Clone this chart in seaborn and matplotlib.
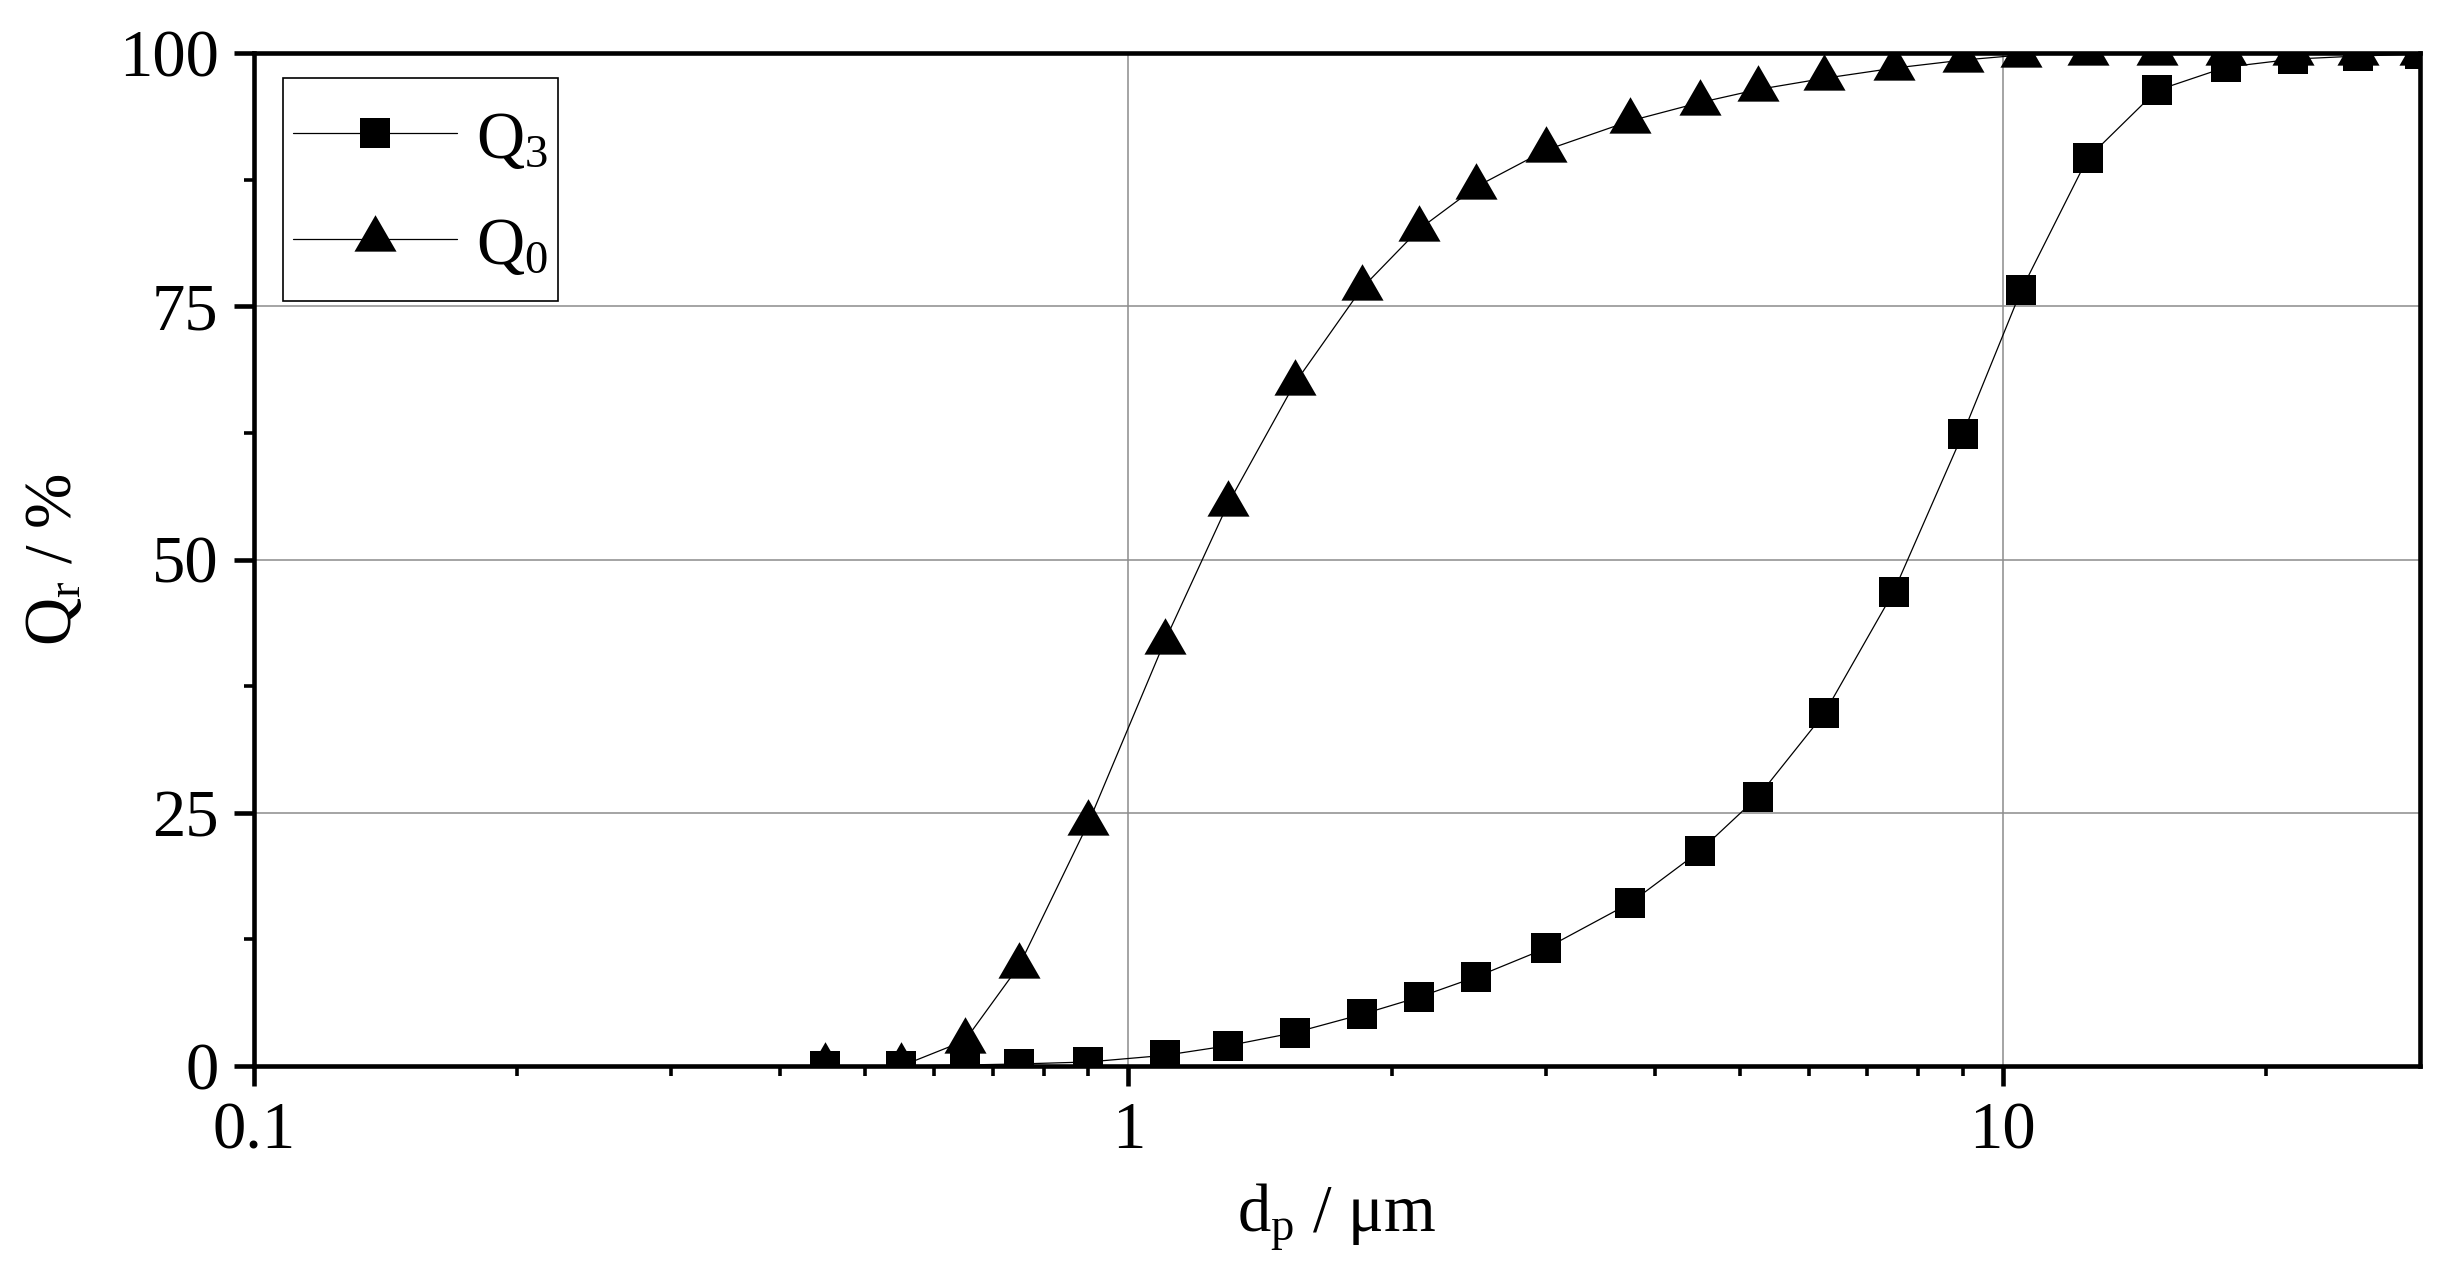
import numpy as np
import pandas as pd
import matplotlib
matplotlib.use("Agg")
import matplotlib.pyplot as plt
from matplotlib.ticker import FixedLocator, NullFormatter, FuncFormatter
import seaborn as sns

# ---- data ----
d_p = [0.45, 0.55, 0.65, 0.75, 0.9, 1.1, 1.3, 1.55, 1.85, 2.15, 2.5, 3.0,
       3.75, 4.5, 5.25, 6.25, 7.5, 9.0, 10.5, 12.5, 15.0, 18.0, 21.5, 25.5, 30.0]
Q3 = [0.0, 0.0, 0.1, 0.2, 0.4, 1.05, 2.0, 3.3, 5.1, 6.8, 8.8, 11.6,
      16.1, 21.2, 26.6, 34.8, 46.8, 62.4, 76.6, 89.6, 96.3, 98.6, 99.4, 99.7, 99.9]
Q0 = [0.0, 0.0, 2.5, 9.9, 24.0, 41.9, 55.5, 67.4, 76.8, 82.6, 86.8, 90.4,
      93.3, 95.1, 96.4, 97.5, 98.5, 99.3, 99.8, 100.0, 100.0, 100.0, 100.0, 100.0, 100.0]
series_labels = [r"Q$_\mathregular{3}$", r"Q$_\mathregular{0}$"]
y_ticks = [0, 25, 50, 75, 100]
x_ticks = [0.1, 1, 10]

sns.set_theme(style="ticks")
plt.rcParams["font.family"] = ["Liberation Serif", "DejaVu Serif"]
plt.rcParams["mathtext.fontset"] = "custom"
plt.rcParams["mathtext.rm"] = "Liberation Serif"
plt.rcParams["mathtext.it"] = "Liberation Serif:italic"
plt.rcParams["axes.unicode_minus"] = False
for k in ("text.color", "axes.labelcolor", "xtick.color", "ytick.color",
          "xtick.labelcolor", "ytick.labelcolor", "axes.edgecolor"):
    plt.rcParams[k] = "black"

FS = 48
DPI = 100
fig = plt.figure(figsize=(2447 / DPI, 1276 / DPI), dpi=DPI)
ax = fig.add_axes([254 / 2447, 1 - 1066 / 1276, (2420 - 254) / 2447, (1066 - 53) / 1276])

df = pd.DataFrame({"d": d_p + d_p,
                   "Q": Q3 + Q0,
                   "series": [series_labels[0]] * len(d_p) + [series_labels[1]] * len(d_p)})

tri = [(0.0, 1.0), (-0.866, -0.5), (0.866, -0.5)]

sns.lineplot(data=df[df.series == series_labels[0]], x="d", y="Q", ax=ax,
             color="black", linewidth=0.9, marker="s", markersize=21,
             markeredgewidth=0, estimator=None, sort=False,
             label=series_labels[0], zorder=3)
sns.lineplot(data=df[df.series == series_labels[1]], x="d", y="Q", ax=ax,
             color="black", linewidth=0.9, marker=tri, markersize=35,
             markeredgewidth=0, estimator=None, sort=False,
             label=series_labels[1], zorder=4)

ax.set_xscale("log")
ax.set_xlim(0.1, 30)
ax.set_ylim(0, 100)

ax.xaxis.set_major_locator(FixedLocator(x_ticks))
ax.xaxis.set_major_formatter(FuncFormatter(lambda v, p: f"{v:g}"))
minors = [m * 10.0 ** e for e in (-1, 0, 1) for m in range(2, 10) if m * 10.0 ** e < 30]
ax.xaxis.set_minor_locator(FixedLocator(minors))
ax.xaxis.set_minor_formatter(NullFormatter())
ax.yaxis.set_major_locator(FixedLocator(y_ticks))
ax.yaxis.set_minor_locator(FixedLocator([12.5, 37.5, 62.5, 87.5]))

ax.grid(True, which="major", color="#8c8c8c", linewidth=1.1)
ax.set_axisbelow(True)

for s in ax.spines.values():
    s.set_linewidth(3.3)
    s.set_color("black")
    s.set_zorder(5)

ax.tick_params(axis="both", which="major", direction="out", length=14.5, width=3.3,
               labelsize=FS, colors="black", labelcolor="black", pad=11)
ax.tick_params(axis="both", which="minor", direction="out", length=7.5, width=2.6,
               colors="black")
ax.tick_params(top=False, right=False, which="both")

ax.set_xlabel(r"d$_\mathregular{p}$ / μm", fontsize=FS, labelpad=14, color="black")
ax.set_ylabel(r"Q$_\mathregular{r}$ / %", fontsize=FS, labelpad=24, color="black")

leg = ax.legend(loc="upper left", bbox_to_anchor=(29 / 2166, 1 - 25 / 1013),
                borderaxespad=0, fontsize=FS, frameon=True, fancybox=False,
                framealpha=1, edgecolor="black", handlelength=2.46,
                handleheight=1.85, handletextpad=0.28, labelspacing=0.15,
                borderpad=0.15)
leg.get_frame().set_linewidth(1.2)
for t in leg.get_texts():
    t.set_color("black")
# centre the legend handles on the label text (points inside the legend box)
for h in leg.legend_handles:
    h.set_ydata(np.asarray(h.get_ydata(), dtype=float) - 7.0)

fig.savefig("out.png", dpi=DPI)
